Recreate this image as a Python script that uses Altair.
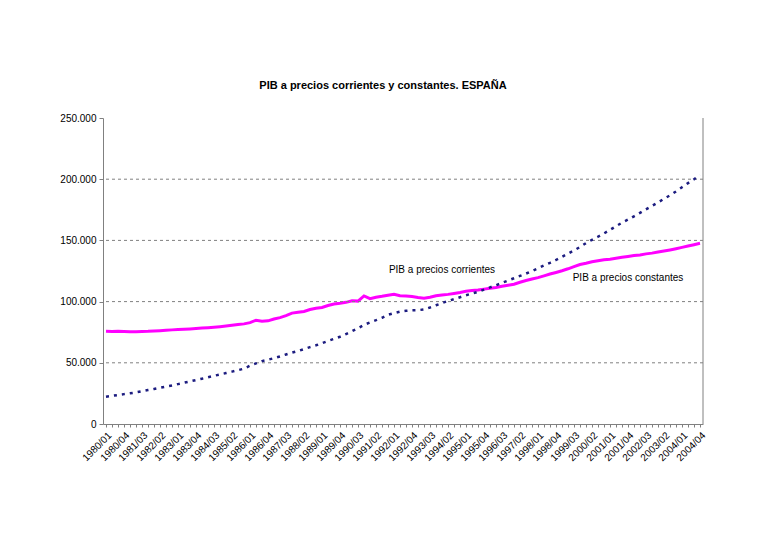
import altair as alt
import pandas as pd

# Quarterly periods 1980/01 .. 2004/04
years = list(range(1980, 2005))
quarters = ["01", "02", "03", "04"]
periods = [f"{y}/{q}" for y in years for q in quarters]

# PIB a precios corrientes (thousands)
corrientes = [
    22.3, 23.0, 23.7, 24.4, 25.1, 25.8, 26.8, 27.7, 28.6, 29.6,
    30.6, 31.5, 32.6, 33.7, 34.8, 35.9, 37.0, 38.2, 39.4, 40.5,
    41.6, 42.8, 44.0, 45.2, 47.6, 49.5, 51.4, 52.5, 53.8, 55.2,
    56.8, 58.3, 59.6, 61.2, 62.8, 64.3, 66.0, 67.9, 69.6, 71.3,
    73.5, 75.8, 78.2, 81.0, 83.0, 84.8, 86.8, 89.2, 90.6, 91.8,
    92.5, 92.9, 93.0, 93.6, 95.2, 97.0, 98.8, 100.5, 102.0, 103.6,
    105.2, 106.6, 108.0, 109.8, 111.6, 113.4, 115.3, 117.2, 119.1, 121.0,
    122.9, 125.0, 127.2, 129.5, 131.6, 134.0, 136.6, 139.2, 141.8, 144.6,
    147.8, 150.5, 153.0, 155.7, 158.6, 161.6, 164.5, 167.0, 169.7, 172.5,
    175.4, 178.2, 181.0, 184.0, 186.8, 190.0, 193.4, 196.8, 200.0, 203.4,
]

# PIB a precios constantes (thousands)
constantes = [
    75.8, 75.6, 75.8, 75.6, 75.3, 75.4, 75.6, 75.7, 76.0, 76.2,
    76.5, 76.9, 77.2, 77.4, 77.7, 78.0, 78.4, 78.7, 79.1, 79.5,
    80.0, 80.6, 81.2, 81.8, 82.8, 84.8, 84.0, 84.3, 85.8, 86.9,
    88.5, 90.6, 91.3, 91.9, 93.5, 94.6, 95.2, 96.8, 98.0, 98.6,
    99.4, 100.6, 100.4, 104.6, 102.4, 103.6, 104.3, 105.2, 106.0, 104.8,
    104.6, 104.2, 103.4, 102.8, 103.5, 104.8, 105.4, 105.9, 106.6, 107.4,
    108.4, 109.0, 109.5, 110.2, 110.9, 111.6, 112.5, 113.3, 114.2, 115.8,
    117.2, 118.4, 119.6, 121.0, 122.5, 123.8, 125.2, 126.8, 128.6, 130.3,
    131.3, 132.5, 133.4, 134.2, 134.6, 135.4, 136.2, 136.9, 137.6, 138.1,
    139.0, 139.6, 140.5, 141.3, 142.2, 143.2, 144.3, 145.4, 146.5, 147.6,
]

tick_labels = [
    "1980/01", "1980/04", "1981/03", "1982/02", "1983/01", "1983/04", "1984/03",
    "1985/02", "1986/01", "1986/04", "1987/03", "1988/02", "1989/01", "1989/04",
    "1990/03", "1991/02", "1992/01", "1992/04", "1993/03", "1994/02", "1995/01",
    "1995/04", "1996/03", "1997/02", "1998/01", "1998/04", "1999/03", "2000/02",
    "2001/01", "2001/04", "2002/03", "2003/02", "2004/01", "2004/04",
]

y_ticks = [0, 50000, 100000, 150000, 200000, 250000]
grid_values = [50000, 100000, 150000, 200000]

ann_text = ["PIB a precios  corrientes", "PIB a precios constantes"]
ann_period = ["1994/01", "2001/04"]
ann_value = [125800, 119300]

FONT = "Liberation Sans"

df = pd.DataFrame({
    "periodo": periods,
    "corrientes": [v * 1000 for v in corrientes],
    "constantes": [v * 1000 for v in constantes],
})

label_array = "[" + ",".join(f"'{t}'" for t in tick_labels) + "]"

x_scale = alt.Scale(type="point", padding=0.5, domain=periods)
x_axis = alt.Axis(
    title=None,
    labelAngle=-45,
    labelAlign="right",
    labelBaseline="top",
    labelOverlap=False,
    labelExpr=f"indexof({label_array}, datum.value) >= 0 ? datum.value : ''",
    labelFont=FONT,
    labelFontSize=10,
    labelColor="#000000",
    labelPadding=3,
    tickSize=3,
    tickColor="#808080",
    domainColor="#808080",
    grid=False,
)

y_scale = alt.Scale(domain=[0, 250000], nice=False)
y_axis = alt.Axis(
    title=None,
    values=y_ticks,
    grid=False,
    labelExpr="replace(format(datum.value, ','), ',', '.')",
    labelFont=FONT,
    labelFontSize=10,
    labelColor="#000000",
    tickSize=4,
    tickColor="#808080",
    domainColor="#808080",
    labelPadding=3,
)

base = alt.Chart(df)

line_const = base.mark_line(color="#FF00FF", strokeWidth=3).encode(
    x=alt.X("periodo:O", scale=x_scale, axis=x_axis),
    y=alt.Y("constantes:Q", scale=y_scale, axis=y_axis),
)

line_corr = base.mark_line(
    color="#1C1C80", strokeWidth=2.5, strokeDash=[3, 5]
).encode(
    x=alt.X("periodo:O", scale=x_scale, axis=x_axis),
    y=alt.Y("corrientes:Q", scale=y_scale, axis=y_axis),
)

grid = alt.Chart(pd.DataFrame({"g": grid_values})).mark_rule(
    color="#808080", strokeDash=[3, 3], strokeWidth=1
).encode(y=alt.Y("g:Q", scale=y_scale, axis=y_axis))

right_border = alt.Chart(pd.DataFrame({"a": [0]})).mark_rule(
    color="#808080", strokeWidth=1
).encode(x=alt.value(600), y=alt.value(0), y2=alt.value(306))

ann_df = pd.DataFrame({"texto": ann_text, "periodo": ann_period, "valor": ann_value})
annotations = alt.Chart(ann_df).mark_text(
    font=FONT, fontSize=10, color="#000000", align="center", baseline="middle"
).encode(
    x=alt.X("periodo:O", scale=x_scale, axis=x_axis),
    y=alt.Y("valor:Q", scale=y_scale, axis=y_axis),
    text="texto:N",
)

title = alt.Chart(pd.DataFrame({"t": ["PIB a precios corrientes y constantes. ESPAÑA"]})).mark_text(
    font=FONT, fontSize=11, fontWeight="bold", color="#000000", align="center", baseline="middle"
).encode(x=alt.value(280), y=alt.value(-32), text="t:N")

chart = alt.layer(
    line_const, grid, right_border, line_corr, annotations, title
).properties(
    width=600,
    height=306,
    autosize=alt.AutoSizeParams(type="none"),
    padding={"left": 103, "top": 118, "right": 65, "bottom": 119},
    background="white",
).configure_view(stroke=None)

chart.save("out.html", embed_options={"renderer": "svg", "actions": False})
